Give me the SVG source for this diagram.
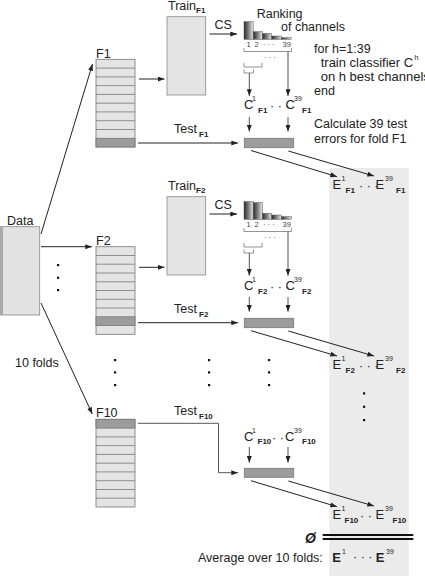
<svg xmlns="http://www.w3.org/2000/svg" width="425" height="576" viewBox="0 0 425 576">
<defs>
<style>
text{font-family:"Liberation Sans",Arial,sans-serif;fill:#222}
.t{font-size:12.5px}
.t13{font-size:13px}
.big{font-size:13px}
.sub{font-size:8px;font-weight:bold}
.sup{font-size:7px}
.num{font-size:7.5px;fill:#444}
.box{fill:#e4e4e4;stroke:#777;stroke-width:0.8}
.dark{fill:#9c9c9c;stroke:#777;stroke-width:0.8}
.ln{stroke:#777;stroke-width:0.8;fill:none}
.con{stroke:#222;stroke-width:1;fill:none}
.gcon{stroke:#555;stroke-width:1;fill:none}
.bar{fill:url(#bg);stroke:#555;stroke-width:0.5}
.dot{fill:#111}
</style>
<linearGradient id="bg" x1="0" y1="0" x2="1" y2="0">
<stop offset="0" stop-color="#2a2a2a"/>
<stop offset="0.55" stop-color="#8a8a8a"/>
<stop offset="1" stop-color="#e8e8e8"/>
</linearGradient>
<marker id="ah" viewBox="0 0 8 6" refX="8" refY="3" markerWidth="7" markerHeight="5" markerUnits="userSpaceOnUse" orient="auto">
<path d="M0,0 L8,3 L0,6 z" fill="#222"/>
</marker>
</defs>
<rect width="425" height="576" fill="#fff"/>
<g id="panel"><rect x="329.3" y="168" width="79.4" height="408" fill="#ebebeb"/></g>

<g id="data">
<rect x="0" y="226.7" width="39.7" height="88.3" fill="#e2e2e2" stroke="#888" stroke-width="0.8"/>
<rect x="0" y="226.7" width="3" height="88.3" fill="#aaa"/>
<text class="t" x="7" y="225">Data</text>
</g>

<g id="fold-f1">
<text class="t" x="96" y="57.5">F1</text>
<rect class="box" x="96" y="59.3" width="39" height="87.7"/>
<path class="ln" d="M96,68.1H135M96,76.9H135M96,85.6H135M96,94.4H135M96,103.2H135M96,111.9H135M96,120.7H135M96,129.5H135"/>
<rect class="dark" x="96" y="138.3" width="39" height="8.7"/>
</g>

<g id="fold-f2">
<text class="t" x="96" y="245">F2</text>
<rect class="box" x="96" y="246.7" width="39" height="87.6"/>
<path class="ln" d="M96,255.5H135M96,264.2H135M96,273H135M96,281.8H135M96,290.5H135M96,299.3H135M96,308H135"/>
<rect class="dark" x="96" y="316.8" width="39" height="8.8"/>
</g>

<g id="fold-f10">
<text class="t" x="96" y="417">F10</text>
<rect class="box" x="96" y="419.3" width="39" height="87.7"/>
<rect class="dark" x="96" y="419.3" width="39" height="8.8"/>
<path class="ln" d="M96,436.9H135M96,445.6H135M96,454.4H135M96,463.2H135M96,471.9H135M96,480.7H135M96,489.5H135M96,498.2H135"/>
</g>

<g id="train-f1">
<rect x="167" y="16.7" width="38.7" height="78.3" fill="#e4e4e4" stroke="#888" stroke-width="0.8"/>
<text class="t" x="168" y="10">Train</text><text class="sub" x="196" y="13">F1</text>
</g>
<g id="train-f2">
<rect x="167" y="196.7" width="38.7" height="78.3" fill="#e4e4e4" stroke="#888" stroke-width="0.8"/>
<text class="t" x="168" y="189.5">Train</text><text class="sub" x="196" y="192.5">F2</text>
</g>

<g id="ranking-f1">
<text class="t" x="256.7" y="18">Ranking</text>
<text class="t" x="281" y="30.5">of channels</text>
<rect class="bar" x="244" y="21.7" width="9.2" height="17.6"/>
<rect class="bar" x="253.2" y="31.7" width="9.2" height="7.6"/>
<rect class="bar" x="262.4" y="33.5" width="9.2" height="5.8"/>
<rect class="bar" x="271.6" y="36" width="9.8" height="3.3"/>
<rect class="bar" x="281.4" y="37.7" width="10" height="1.6"/>
<text class="num" x="246.5" y="47">1</text><text class="num" x="254.5" y="47">2</text>
<text class="num" x="263" y="47">· · ·</text><text class="num" x="282.5" y="47">39</text>
<path class="ln" d="M244,48V51.5H291.5V48"/>
<text class="num" x="264" y="60">· · ·</text>
<path class="ln" d="M244,63V67H262V63"/>
<path class="ln" d="M244,69.5V73H253.5V69.5"/>
</g>
<g id="ranking-f2">
<rect class="bar" x="244" y="201.7" width="9.2" height="17.6"/>
<rect class="bar" x="253.2" y="202.7" width="9.2" height="16.6"/>
<rect class="bar" x="262.4" y="213.3" width="9.2" height="6"/>
<rect class="bar" x="271.6" y="215" width="9.8" height="4.3"/>
<rect class="bar" x="281.4" y="216.7" width="10" height="2.6"/>
<text class="num" x="246.5" y="227">1</text><text class="num" x="254.5" y="227">2</text>
<text class="num" x="263" y="227">· · ·</text><text class="num" x="282.5" y="227">39</text>
<path class="ln" d="M244,228V231.5H291.5V228"/>
<text class="num" x="264" y="240">· · ·</text>
<path class="ln" d="M244,243V247H262V243"/>
<path class="ln" d="M244,249.5V253H253.5V249.5"/>
</g>

<g id="algorithm">
<text class="t" x="314" y="53">for h=1:39</text>
<text class="t13" x="320.7" y="67">train classifier C</text><text class="sup" x="414.5" y="60">h</text>
<text class="t13" x="320.7" y="81">on h best channels</text>
<text class="t" x="314" y="95">end</text>
<text class="t" x="314" y="128">Calculate 39 test</text>
<text class="t" x="314" y="142.5">errors for fold F1</text>
</g>

<g id="classifiers-f1">
<text class="big" x="244" y="109">C</text><text class="sup" x="252" y="100.5">1</text><text class="sub" x="258" y="113">F1</text>
<text class="t" x="270" y="110">· · ·</text>
<text class="big" x="285.5" y="109">C</text><text class="sup" x="294" y="101">39</text><text class="sub" x="302" y="113">F1</text>
</g>
<g id="classifiers-f2">
<text class="big" x="244" y="290">C</text><text class="sup" x="252" y="281.5">1</text><text class="sub" x="258" y="294">F2</text>
<text class="t" x="270" y="291">· · ·</text>
<text class="big" x="285.5" y="290">C</text><text class="sup" x="294" y="282">39</text><text class="sub" x="302" y="294">F2</text>
</g>
<g id="classifiers-f10">
<text class="big" x="244" y="441">C</text><text class="sup" x="252" y="432.5">1</text><text class="sub" x="257.5" y="444">F10</text>
<text class="t" x="272" y="442">· ·</text>
<text class="big" x="285" y="441">C</text><text class="sup" x="294" y="433">39</text><text class="sub" x="302" y="444">F10</text>
</g>

<g id="test-f1"><rect class="dark" x="244.3" y="138.3" width="49.4" height="9.4"/></g>
<g id="test-f2"><rect class="dark" x="244.3" y="318.3" width="49.4" height="9.4"/></g>
<g id="test-f10"><rect class="dark" x="244.3" y="468.3" width="49.4" height="9"/></g>

<g id="labels">
<text class="t" x="214.5" y="29">CS</text>
<text class="t" x="214.5" y="209">CS</text>
<text class="t" x="174" y="133">Test</text><text class="sub" x="199" y="137">F1</text>
<text class="t" x="174" y="313">Test</text><text class="sub" x="199" y="317">F2</text>
<text class="t" x="174" y="415">Test</text><text class="sub" x="199" y="419">F10</text>
<text class="t" x="15" y="366.7">10 folds</text>
</g>

<g id="errors-f1">
<text class="big" x="332.5" y="189">E</text><text class="sup" x="341.5" y="180.5">1</text><text class="sub" x="345.5" y="193">F1</text>
<text class="t" x="359" y="190">· · ·</text>
<text class="big" x="375.5" y="189">E</text><text class="sup" x="385" y="181">39</text><text class="sub" x="396" y="193">F1</text>
</g>
<g id="errors-f2">
<text class="big" x="332.5" y="369">E</text><text class="sup" x="341.5" y="360.5">1</text><text class="sub" x="345.5" y="373">F2</text>
<text class="t" x="359" y="370">· · ·</text>
<text class="big" x="375.5" y="369">E</text><text class="sup" x="385" y="361">39</text><text class="sub" x="396" y="373">F2</text>
</g>
<g id="errors-f10">
<text class="big" x="332.5" y="519">E</text><text class="sup" x="341.5" y="510.5">1</text><text class="sub" x="344.5" y="523">F10</text>
<text class="t" x="360" y="520">· ·</text>
<text class="big" x="375.5" y="519">E</text><text class="sup" x="385" y="511">39</text><text class="sub" x="392.5" y="523">F10</text>
</g>

<g id="average">
<text x="305" y="543" style="font-size:14px;font-weight:bold;font-style:italic">Ø</text>
<path d="M322.7,535H413.3M322.7,539H413.3" stroke="#111" stroke-width="1.8" fill="none"/>
<text class="t" x="198" y="561.7">Average over 10 folds:</text>
<text x="332.3" y="561.7" style="font-size:13px;font-weight:bold">E</text><text class="sup" x="342" y="553.5">1</text>
<text class="t" x="353" y="561">· · ·</text>
<text x="375.7" y="561.7" style="font-size:13px;font-weight:bold">E</text><text class="sup" x="386" y="553.5">39</text>
</g>

<g id="ellipses">
<rect class="dot" x="57" y="264" width="2.2" height="2.2"/><rect class="dot" x="57" y="276.7" width="2.2" height="2.2"/><rect class="dot" x="57" y="289" width="2.2" height="2.2"/>
<rect class="dot" x="114" y="359" width="2.2" height="2.2"/><rect class="dot" x="114" y="371.3" width="2.2" height="2.2"/><rect class="dot" x="114" y="384" width="2.2" height="2.2"/>
<rect class="dot" x="208" y="359" width="2.2" height="2.2"/><rect class="dot" x="208" y="371.3" width="2.2" height="2.2"/><rect class="dot" x="208" y="384" width="2.2" height="2.2"/>
<rect class="dot" x="268" y="359" width="2.2" height="2.2"/><rect class="dot" x="268" y="371.3" width="2.2" height="2.2"/><rect class="dot" x="268" y="384" width="2.2" height="2.2"/>
<rect class="dot" x="363" y="392.3" width="2.2" height="2.2"/><rect class="dot" x="363" y="405.7" width="2.2" height="2.2"/><rect class="dot" x="363" y="419" width="2.2" height="2.2"/>
</g>

<g id="connectors">
<path class="con" d="M41,234L92.5,64" marker-end="url(#ah)"/>
<path class="con" d="M41,246.7H92" marker-end="url(#ah)"/>
<path class="con" d="M41,303L92.3,414" marker-end="url(#ah)"/>
<path class="con" d="M139,79H164.5" marker-end="url(#ah)"/>
<path class="con" d="M139,267.3H164.5" marker-end="url(#ah)"/>
<path class="con" d="M209.5,34H237" marker-end="url(#ah)"/>
<path class="con" d="M209.5,214H237" marker-end="url(#ah)"/>
<path class="con" d="M138,143H238" marker-end="url(#ah)"/>
<path class="con" d="M138,322.7H238" marker-end="url(#ah)"/>
<path class="gcon" d="M138,423.3H218.5V472.7H238" marker-end="url(#ah)"/>
<path class="gcon" d="M249.3,73V96" marker-end="url(#ah)"/>
<path class="gcon" d="M288,51.5V96" marker-end="url(#ah)"/>
<path class="gcon" d="M249.3,253V275.7" marker-end="url(#ah)"/>
<path class="gcon" d="M288,231.5V275.7" marker-end="url(#ah)"/>
<path class="gcon" d="M249.3,117V131.5" marker-end="url(#ah)"/>
<path class="gcon" d="M288,117V131.5" marker-end="url(#ah)"/>
<path class="gcon" d="M249.3,297V311.7" marker-end="url(#ah)"/>
<path class="gcon" d="M288,297V311.7" marker-end="url(#ah)"/>
<path class="gcon" d="M249.3,447V462.7" marker-end="url(#ah)"/>
<path class="gcon" d="M288,447V462.7" marker-end="url(#ah)"/>
<path class="con" d="M251,150.5L337,176.7" marker-end="url(#ah)"/>
<path class="con" d="M288.3,151L374,176" marker-end="url(#ah)"/>
<path class="con" d="M251,330.7L337,356" marker-end="url(#ah)"/>
<path class="con" d="M288.3,331L374,356" marker-end="url(#ah)"/>
<path class="con" d="M251,480.7L337,506.7" marker-end="url(#ah)"/>
<path class="con" d="M288.3,481L374,506" marker-end="url(#ah)"/>
</g>
</svg>
